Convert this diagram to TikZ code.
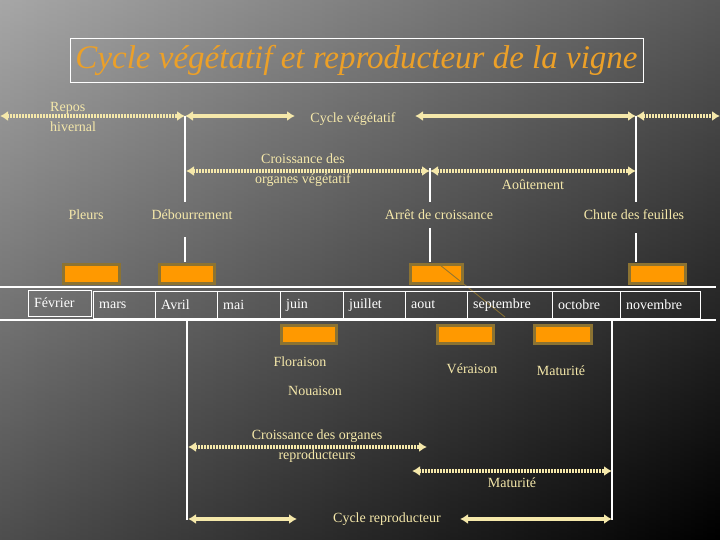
\documentclass[tikz,border=0pt]{standalone}
\usepackage{fontspec}
\setmainfont{Liberation Serif}
\usetikzlibrary{arrows.meta}
\definecolor{cream}{RGB}{245,232,170}
\definecolor{ttl}{RGB}{236,160,40}
\definecolor{org}{RGB}{255,153,0}
\definecolor{gold}{RGB}{140,115,50}
\definecolor{bgl}{RGB}{185,185,185}
\tikzset{
 lbl/.style={text=cream,font=\fontsize{14}{20}\selectfont,inner sep=0pt,align=center},
 mon/.style={text=white,font=\fontsize{14}{16}\selectfont,anchor=west,inner sep=0pt},
 dotarr/.style={cream,line width=3.5pt,dash pattern=on 2pt off 1pt,{Latex[length=8pt,width=10pt]}-{Latex[length=8pt,width=10pt]}},
 solarr/.style={cream,line width=3.5pt,{Latex[length=8pt,width=10pt]}-{Latex[length=8pt,width=10pt]}},
 vl/.style={white,line width=2.5pt},
 obox/.style={draw=gold,line width=3pt,fill=org},
 cell/.style={draw=white,line width=0.8pt}
}
\begin{document}
\begin{tikzpicture}[x=1pt,y=-1pt]
\useasboundingbox (0,0) rectangle (720,540);
\shade[left color=bgl,right color=black] (0,0) rectangle (720,540);
\fill[top color=black!0,bottom color=black,opacity=0.35] (0,0) rectangle (720,540);
% title
\node[draw=white,line width=0.8pt,minimum width=573pt,minimum height=44pt,inner sep=0pt,text=ttl,font=\fontsize{33}{35}\itshape\selectfont] (title) at (356.5,60) {Cycle végétatif et reproducteur de la vigne};
% top line
\coordinate (t0) at (0,116); \coordinate (t1) at (185,116); \coordinate (t2) at (295,116);
\coordinate (t3) at (415,116); \coordinate (t4) at (636,116); \coordinate (t5) at (720,116);
\draw[dotarr] (t0) -- (t1);
\draw[solarr] (t1) -- (t2);
\draw[solarr] (t3) -- (t4);
\draw[dotarr] (t4) -- (t5);
\node[lbl] (cv) at (353,119) {Cycle végétatif};
\node[lbl,align=left,anchor=west] (rh) at (50,117) {Repos\\hivernal};
% verticals
\draw[vl] (185,116) -- (185,202); \draw[vl] (185,237) -- (185,262);
\draw[vl] (430,168) -- (430,202); \draw[vl] (430,228) -- (430,262);
\draw[vl] (636,116) -- (636,202); \draw[vl] (636,233) -- (636,262);
% middle dotted
\coordinate (m0) at (186,171); \coordinate (m1) at (430,171); \coordinate (m2) at (636,171);
\draw[dotarr] (m0) -- (m1);
\draw[dotarr] (m1) -- (m2);
\node[lbl] (cov) at (303,170) {Croissance des\\organes végétatif};
\node[lbl] (aou) at (533,185) {Aoûtement};
\node[lbl] (pl) at (86,215) {Pleurs};
\node[lbl] (deb) at (192,215) {Débourrement};
\node[lbl] (arr) at (439,215) {Arrêt de croissance};
\node[lbl] (chu) at (634,215) {Chute des feuilles};
% orange boxes top
\draw[obox] (63,264) rectangle (119,283);
\draw[obox] (159,264) rectangle (214,283);
\draw[obox] (410,264) rectangle (462,283);
\draw[obox] (629,264) rectangle (685,283);
\draw[gold,line width=0.8pt] (440,265) -- (505,317);
% horizontal lines
\draw[white,line width=2pt] (0,287) -- (716,287);
\draw[white,line width=2pt] (0,320) -- (716,320);
% months
\draw[cell] (28,290) rectangle (91,316);
\node[mon] at (34,303) {Février};
\foreach \a/\b/\t in {93/155/mars,155/217/Avril,217/280/mai,280/343/juin,343/405/juillet,405/467/aout,467/552/septembre,552/620/octobre,620/700/novembre}{
 \draw[cell] (\a,291) rectangle (\b,318);
 \node[mon] at (\a+6,305) {\t};
}
% lower verticals
\draw[vl] (187,320) -- (187,520);
\draw[vl] (612,320) -- (612,520);
% lower boxes
\draw[obox] (281,325) rectangle (336,343);
\draw[obox] (437,325) rectangle (493,343);
\draw[obox] (534,325) rectangle (591,343);
\node[lbl] (flo) at (300,362) {Floraison};
\node[lbl] (ver) at (472,369) {Véraison};
\node[lbl] (mat) at (561,371) {Maturité};
\node[lbl] (nou) at (315,391) {Nouaison};
% lower dotted
\coordinate (r0) at (188,447); \coordinate (r1) at (427,447);
\draw[dotarr] (r0) -- (r1);
\node[lbl] (cor) at (317,446) {Croissance des organes\\reproducteurs};
\coordinate (s0) at (412,471); \coordinate (s1) at (612,471);
\draw[dotarr] (s0) -- (s1);
\node[lbl] (mat2) at (512,483) {Maturité};
% bottom
\coordinate (b0) at (188,519); \coordinate (b1) at (297,519);
\coordinate (b2) at (460,519); \coordinate (b3) at (612,519);
\draw[solarr] (b0) -- (b1);
\draw[solarr] (b2) -- (b3);
\node[lbl] (cr) at (387,519) {Cycle reproducteur};
\end{tikzpicture}
\end{document}
